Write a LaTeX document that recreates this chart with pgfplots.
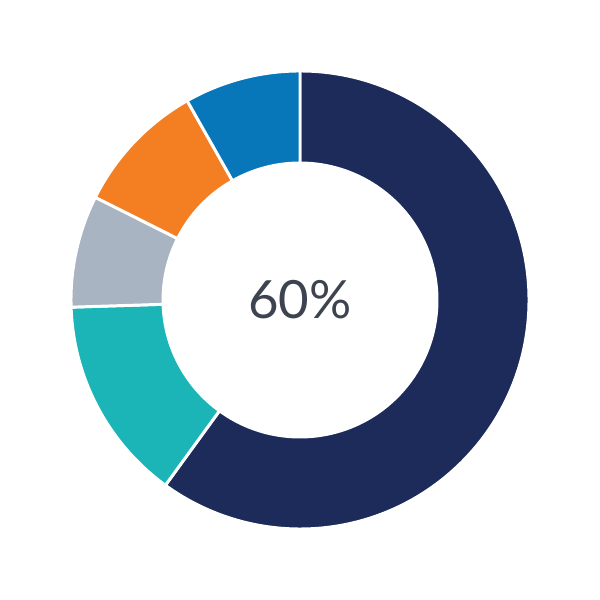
\documentclass[border=0pt]{standalone}
\usepackage{pgfplots}
\pgfplotsset{compat=1.18}
\usepackage{fontspec}
\setmainfont{Lato}
\definecolor{cNavy}{HTML}{1C2B5A}
\definecolor{cTeal}{HTML}{1BB5B8}
\definecolor{cGray}{HTML}{A9B4C2}
\definecolor{cOrange}{HTML}{F37F22}
\definecolor{cBlue}{HTML}{0877B9}
\definecolor{cText}{HTML}{3D4450}
\begin{document}
\begin{tikzpicture}
\begin{axis}[
  hide axis, scale only axis, width=10cm, height=10cm,
  xmin=-300, xmax=300, ymin=-300, ymax=300, clip=false]
\addplot[draw=none] coordinates {(-300,-300) (300,300)};
\xdef\a{90}
\foreach \v/\c in {60/cNavy,14.5/cTeal,7.9/cGray,9.4/cOrange,8.2/cBlue}{
  \pgfmathsetmacro\b{\a-3.6*\v}
  \edef\temp{\noexpand\fill[\c, draw=white, line width=1.4pt]
    (axis cs:{229*cos(\a)},{229*sin(\a)})
    arc[start angle=\a, end angle=\b, radius=229]
    -- (axis cs:{137*cos(\b)},{137*sin(\b)})
    arc[start angle=\b, end angle=\a, radius=137] -- cycle;}
  \temp
  \xdef\a{\b}
}
\node[text=cText, font=\fontsize{25}{30}\selectfont] at (axis cs:0,0) {60\%};
\end{axis}
\end{tikzpicture}
\end{document}
